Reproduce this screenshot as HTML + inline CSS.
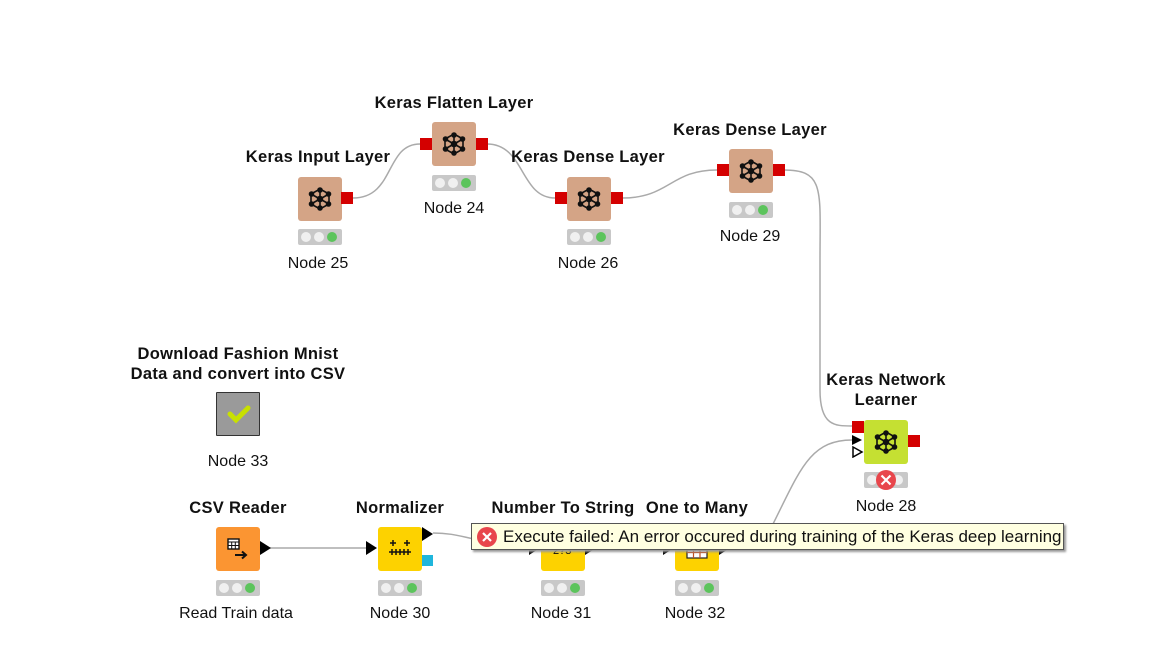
<!DOCTYPE html>
<html><head><meta charset="utf-8"><style>
body{margin:0;width:1152px;height:668px;background:#fff;position:relative;overflow:hidden;font-family:"Liberation Sans",Arial,sans-serif;}
.b{position:absolute;width:44px;height:44px;border-radius:3px;}
.k{background:#d4a486;}
.y{background:#fdd200;}
.st{position:absolute;width:44px;height:16px;background:#c8c8c8;border-radius:2px;}
.st i{position:absolute;top:3px;width:10px;height:10px;border-radius:50%;background:#f0f0f0;}
.t{position:absolute;font-weight:bold;font-size:16.5px;letter-spacing:0.3px;color:#111;text-align:center;white-space:nowrap;transform:translateX(-50%);line-height:20px;}
.l{position:absolute;font-size:16px;color:#111;white-space:nowrap;transform:translateX(-50%);line-height:18px;}
.p{position:absolute;width:12px;height:12px;background:#d40000;}
.ico{position:absolute;left:10px;top:10px;}
</style></head><body>
<svg width="1152" height="668" style="position:absolute;left:0;top:0" fill="none" stroke="#aaa" stroke-width="1.5">
<path d="M353 198 C395 198 385 144 420 144"/>
<path d="M487 144 C525 144 520 198 555 198"/>
<path d="M622 198 C670 198 670 170 717 170"/>
<path d="M784 170 C825 170 820 190 820 260 L820 390 C820 426 835 426 852 426"/>
<path d="M270 548 L366 548"/>
<path d="M433 533 C455 533 465 538 480 540"/>
<path d="M773 524 C800 470 810 440 852 440"/>
</svg>

<!-- Node 25 -->
<div class="t" style="left:318px;top:147px">Keras Input Layer</div>
<div class="b k" style="left:298px;top:177px"><svg class="ico" width="24" height="24" viewBox="0 0 24 24"><g stroke="#111" stroke-width="1.6" fill="#111"><path d="M12 2 L21 7 L21 17 L12 22 L3 17 L3 7 Z M12 2 L12 22 M3 7 L21 17 M21 7 L3 17" fill="none"/><circle cx="12" cy="3" r="2"/><circle cx="12" cy="21" r="2"/><circle cx="3.5" cy="7" r="2"/><circle cx="20.5" cy="7" r="2"/><circle cx="3.5" cy="17" r="2"/><circle cx="20.5" cy="17" r="2"/><circle cx="12" cy="12" r="2.5"/></g></svg></div>
<div class="p" style="left:341px;top:192px"></div>
<div class="st" style="left:298px;top:229px"><i style="left:3px"></i><i style="left:16px"></i><i style="left:29px;background:#5cc45c"></i></div>
<div class="l" style="left:318px;top:255px">Node 25</div>

<!-- Node 24 -->
<div class="t" style="left:454px;top:93px">Keras Flatten Layer</div>
<div class="b k" style="left:432px;top:122px"><svg class="ico" width="24" height="24" viewBox="0 0 24 24"><g stroke="#111" stroke-width="1.6" fill="#111"><path d="M12 2 L21 7 L21 17 L12 22 L3 17 L3 7 Z M12 2 L12 22 M3 7 L21 17 M21 7 L3 17" fill="none"/><circle cx="12" cy="3" r="2"/><circle cx="12" cy="21" r="2"/><circle cx="3.5" cy="7" r="2"/><circle cx="20.5" cy="7" r="2"/><circle cx="3.5" cy="17" r="2"/><circle cx="20.5" cy="17" r="2"/><circle cx="12" cy="12" r="2.5"/></g></svg></div>
<div class="p" style="left:420px;top:138px"></div><div class="p" style="left:476px;top:138px"></div>
<div class="st" style="left:432px;top:175px"><i style="left:3px"></i><i style="left:16px"></i><i style="left:29px;background:#5cc45c"></i></div>
<div class="l" style="left:454px;top:200px">Node 24</div>

<!-- Node 26 -->
<div class="t" style="left:588px;top:147px">Keras Dense Layer</div>
<div class="b k" style="left:567px;top:177px"><svg class="ico" width="24" height="24" viewBox="0 0 24 24"><g stroke="#111" stroke-width="1.6" fill="#111"><path d="M12 2 L21 7 L21 17 L12 22 L3 17 L3 7 Z M12 2 L12 22 M3 7 L21 17 M21 7 L3 17" fill="none"/><circle cx="12" cy="3" r="2"/><circle cx="12" cy="21" r="2"/><circle cx="3.5" cy="7" r="2"/><circle cx="20.5" cy="7" r="2"/><circle cx="3.5" cy="17" r="2"/><circle cx="20.5" cy="17" r="2"/><circle cx="12" cy="12" r="2.5"/></g></svg></div>
<div class="p" style="left:555px;top:192px"></div><div class="p" style="left:611px;top:192px"></div>
<div class="st" style="left:567px;top:229px"><i style="left:3px"></i><i style="left:16px"></i><i style="left:29px;background:#5cc45c"></i></div>
<div class="l" style="left:588px;top:255px">Node 26</div>

<!-- Node 29 -->
<div class="t" style="left:750px;top:120px">Keras Dense Layer</div>
<div class="b k" style="left:729px;top:149px"><svg class="ico" width="24" height="24" viewBox="0 0 24 24"><g stroke="#111" stroke-width="1.6" fill="#111"><path d="M12 2 L21 7 L21 17 L12 22 L3 17 L3 7 Z M12 2 L12 22 M3 7 L21 17 M21 7 L3 17" fill="none"/><circle cx="12" cy="3" r="2"/><circle cx="12" cy="21" r="2"/><circle cx="3.5" cy="7" r="2"/><circle cx="20.5" cy="7" r="2"/><circle cx="3.5" cy="17" r="2"/><circle cx="20.5" cy="17" r="2"/><circle cx="12" cy="12" r="2.5"/></g></svg></div>
<div class="p" style="left:717px;top:164px"></div><div class="p" style="left:773px;top:164px"></div>
<div class="st" style="left:729px;top:202px"><i style="left:3px"></i><i style="left:16px"></i><i style="left:29px;background:#5cc45c"></i></div>
<div class="l" style="left:750px;top:228px">Node 29</div>

<!-- Node 28 -->
<div class="t" style="left:886px;top:370px">Keras Network<br>Learner</div>
<div class="b" style="left:864px;top:420px;background:#c5e032"><svg class="ico" width="24" height="24" viewBox="0 0 24 24"><g stroke="#111" stroke-width="1.6" fill="#111"><path d="M12 2 L21 7 L21 17 L12 22 L3 17 L3 7 Z M12 2 L12 22 M3 7 L21 17 M21 7 L3 17" fill="none"/><circle cx="12" cy="3" r="2"/><circle cx="12" cy="21" r="2"/><circle cx="3.5" cy="7" r="2"/><circle cx="20.5" cy="7" r="2"/><circle cx="3.5" cy="17" r="2"/><circle cx="20.5" cy="17" r="2"/><circle cx="12" cy="12" r="2.5"/></g></svg></div>
<div class="p" style="left:852px;top:421px"></div><div class="p" style="left:908px;top:435px"></div>
<svg style="position:absolute;left:851px;top:434px" width="14" height="24"><path d="M1 1 L11 6 L1 11 Z" fill="#000"/><path d="M2 13 L11 18 L2 23 Z" fill="#fff" stroke="#000" stroke-width="1.5"/></svg>
<div class="st" style="left:864px;top:472px"><i style="left:3px"></i><i style="left:29px"></i>
<svg style="position:absolute;left:10px;top:-3px" width="24" height="22"><circle cx="12" cy="11" r="10" fill="#e8464c"/><path d="M7.5 6.5 L16.5 15.5 M16.5 6.5 L7.5 15.5" stroke="#fff" stroke-width="2.2"/></svg></div>
<div class="l" style="left:886px;top:498px">Node 28</div>

<!-- Node 33 -->
<div class="t" style="left:238px;top:344px">Download Fashion Mnist<br>Data and convert into CSV</div>
<div class="b" style="left:216px;top:392px;width:42px;height:42px;background:#9a9a9a;border:1.5px solid #333;border-radius:1px"><svg style="position:absolute;left:10px;top:11px" width="24" height="20"><path d="M3 10 L9 16 L21 4" stroke="#c8e000" stroke-width="5" fill="none" stroke-linecap="round"/></svg></div>
<div class="l" style="left:238px;top:453px">Node 33</div>

<!-- CSV Reader -->
<div class="t" style="left:238px;top:498px">CSV Reader</div>
<div class="b" style="left:216px;top:527px;background:#fb9532"><svg style="position:absolute;left:11px;top:11px" width="24" height="24"><rect x="1" y="1" width="11" height="10" fill="#fff" stroke="#111" stroke-width="1.4"/><path d="M1 4 H12 M1 7.5 H12 M4.7 4 V11 M8.3 4 V11" stroke="#111" stroke-width="1"/><path d="M8 17 H18 M15 13.5 L19 17 L15 20.5" stroke="#111" stroke-width="2" fill="none"/></svg></div>
<svg style="position:absolute;left:260px;top:541px" width="12" height="14"><path d="M0 0 L11 7 L0 14 Z"/></svg>
<div class="st" style="left:216px;top:580px"><i style="left:3px"></i><i style="left:16px"></i><i style="left:29px;background:#5cc45c"></i></div>
<div class="l" style="left:236px;top:605px">Read Train data</div>

<!-- Normalizer -->
<div class="t" style="left:400px;top:498px">Normalizer</div>
<div class="b y" style="left:378px;top:527px"><svg style="position:absolute;left:10px;top:12px" width="24" height="20"><g stroke="#111" stroke-width="1.5" fill="#111"><path d="M2 4 H8 M5 1 V7 M16 4 H22 M19 1 V7 M1 13 H23 M4 10 V16 M8 10 V16 M12 10 V16 M16 10 V16 M20 10 V16"/></g></svg></div>
<svg style="position:absolute;left:366px;top:541px" width="12" height="14"><path d="M0 0 L11 7 L0 14 Z"/></svg>
<svg style="position:absolute;left:422px;top:527px" width="12" height="14"><path d="M0 0 L11 7 L0 14 Z"/></svg>
<div style="position:absolute;left:422px;top:555px;width:11px;height:11px;background:#1fb6dc"></div>
<div class="st" style="left:378px;top:580px"><i style="left:3px"></i><i style="left:16px"></i><i style="left:29px;background:#5cc45c"></i></div>
<div class="l" style="left:400px;top:605px">Node 30</div>

<!-- Number To String -->
<div class="t" style="left:563px;top:498px">Number To String</div>
<div class="b y" style="left:541px;top:527px"><div style="position:absolute;left:12px;top:18px;font-size:11px">2?3</div></div>
<svg style="position:absolute;left:529px;top:541px" width="12" height="14"><path d="M0 0 L11 7 L0 14 Z"/></svg>
<svg style="position:absolute;left:585px;top:541px" width="12" height="14"><path d="M0 0 L11 7 L0 14 Z"/></svg>
<div class="st" style="left:541px;top:580px"><i style="left:3px"></i><i style="left:16px"></i><i style="left:29px;background:#5cc45c"></i></div>
<div class="l" style="left:561px;top:605px">Node 31</div>

<!-- One to Many -->
<div class="t" style="left:697px;top:498px">One to Many</div>
<div class="b y" style="left:675px;top:527px"><svg style="position:absolute;left:11px;top:22px" width="22" height="10"><rect x="1" y="1" width="20" height="8" fill="#fff" stroke="#222" stroke-width="1.2"/><path d="M1 3.5 H21 M7.5 1 V9 M14 1 V9" stroke="#c05020" stroke-width="1.2"/></svg></div>
<svg style="position:absolute;left:663px;top:541px" width="12" height="14"><path d="M0 0 L11 7 L0 14 Z"/></svg>
<svg style="position:absolute;left:719px;top:541px" width="12" height="14"><path d="M0 0 L11 7 L0 14 Z"/></svg>
<div class="st" style="left:675px;top:580px"><i style="left:3px"></i><i style="left:16px"></i><i style="left:29px;background:#5cc45c"></i></div>
<div class="l" style="left:695px;top:605px">Node 32</div>

<!-- Tooltip -->
<div style="position:absolute;left:471px;top:523px;width:591px;height:25px;background:#ffffe1;border:1px solid #555;box-shadow:2px 2px 2px #999;overflow:hidden;white-space:nowrap;font-size:17px;line-height:25px;color:#111">
<svg style="position:absolute;left:4px;top:2px" width="22" height="22"><circle cx="11" cy="11" r="10" fill="#e8464c"/><path d="M7 7 L15 15 M15 7 L7 15" stroke="#fff" stroke-width="2.2"/></svg>
<span style="position:absolute;left:31px;top:0">Execute failed: An error occured during training of the Keras deep learning network</span></div>
</body></html>
